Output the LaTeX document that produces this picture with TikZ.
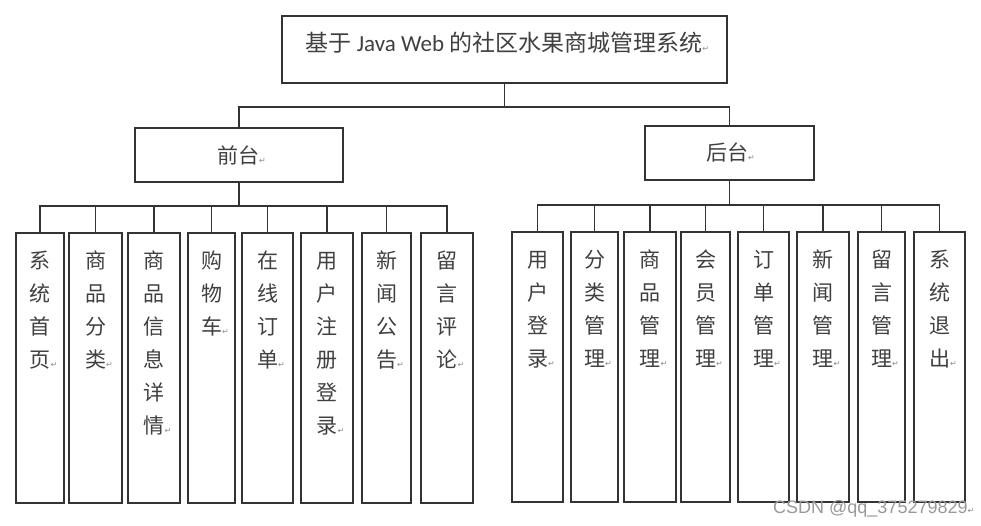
\documentclass[tikz,border=0pt]{standalone}
\usepackage{fontspec}
\setmainfont{Noto Sans CJK SC}
\newfontfamily\latinfont{Carlito}
\newfontfamily\symfont{DejaVu Sans}
\newfontfamily\wmfont{Liberation Sans}
\newcommand{\pmark}{\rlap{\symfont\fontsize{8}{8}\selectfont\textcolor{black!45}{↵}}}
\tikzset{
  conn/.style={draw=black!80, line width=1.6pt},
  boxstyle/.style={draw=black!80, line width=1.6pt, rectangle, inner sep=0pt, fill=white},
  leaftext/.style={text=black!75, inner sep=0pt, text width=40pt, align=center, anchor=base,
    font=\fontsize{21}{33}\selectfont},
  boxtext/.style={text=black!75, inner sep=0pt, anchor=base, font=\fontsize{21}{25}\selectfont},
}
\newcommand{\leaf}[6]{%
  \node[boxstyle, minimum width={#3-#2}, minimum height=270] (#1) at ({(#2+#3)/2},{#4+135}) {};
  \node[leaftext] (#1t) at ({(#2+#3)/2},{#4+35}) {#6};
  \draw[conn] (#1.north) |- (#5);
}
\begin{document}
\begin{tikzpicture}[x=1pt,y=-1pt]
\useasboundingbox[fill=white] (0,0) rectangle (981,525);
% root
\node[boxstyle, minimum width=445, minimum height=67] (top) at (504.5,49.5) {};
\node[boxtext, font=\fontsize{23}{27}\selectfont] (toptext) at (504,51.5)
  {基于 {\latinfont Java Web} 的社区水果商城管理系统\pmark};
% second level
\node[boxstyle, minimum width=208, minimum height=54] (front) at (239,155) {};
\node[boxtext] (fronttext) at (238,163) {前台\pmark};
\node[boxstyle, minimum width=169, minimum height=54] (back) at (729.5,153) {};
\node[boxtext] (backtext) at (727,160) {后台\pmark};
\coordinate (tj) at (504.5,107);
\draw[conn] (top.south) -- (tj);
\draw[conn] (front.north) |- (tj) -| (back.north);
% buses
\coordinate (fj) at (239,206);
\coordinate (bj) at (729.5,205);
\draw[conn] (front.south) -- (fj);
\draw[conn] (back.south) -- (bj);
% front leaves
\leaf{f1}{16}{64}{233}{fj}{系\\统\\首\\页\pmark}
\leaf{f2}{69}{122}{233}{fj}{商\\品\\分\\类\pmark}
\leaf{f3}{128}{180}{233}{fj}{商\\品\\信\\息\\详\\情\pmark}
\leaf{f4}{188}{235}{233}{fj}{购\\物\\车\pmark}
\leaf{f5}{242}{293}{233}{fj}{在\\线\\订\\单\pmark}
\leaf{f6}{301}{353}{233}{fj}{用\\户\\注\\册\\登\\录\pmark}
\leaf{f7}{362}{411}{233}{fj}{新\\闻\\公\\告\pmark}
\leaf{f8}{421}{473}{233}{fj}{留\\言\\评\\论\pmark}
% back leaves
\leaf{b1}{512}{563}{232}{bj}{用\\户\\登\\录\pmark}
\leaf{b2}{571}{618}{232}{bj}{分\\类\\管\\理\pmark}
\leaf{b3}{624}{676}{232}{bj}{商\\品\\管\\理\pmark}
\leaf{b4}{681}{730}{232}{bj}{会\\员\\管\\理\pmark}
\leaf{b5}{738}{789}{232}{bj}{订\\单\\管\\理\pmark}
\leaf{b6}{797}{849}{232}{bj}{新\\闻\\管\\理\pmark}
\leaf{b7}{858}{905}{232}{bj}{留\\言\\管\\理\pmark}
\leaf{b8}{914}{965}{232}{bj}{系\\统\\退\\出\pmark}
% watermark
\node[anchor=base west, inner sep=0pt, text=black!40, font=\wmfont\fontsize{18}{20}\selectfont] (wm) at (773,513) {CSDN @qq\_375279829\pmark};
\end{tikzpicture}
\end{document}
